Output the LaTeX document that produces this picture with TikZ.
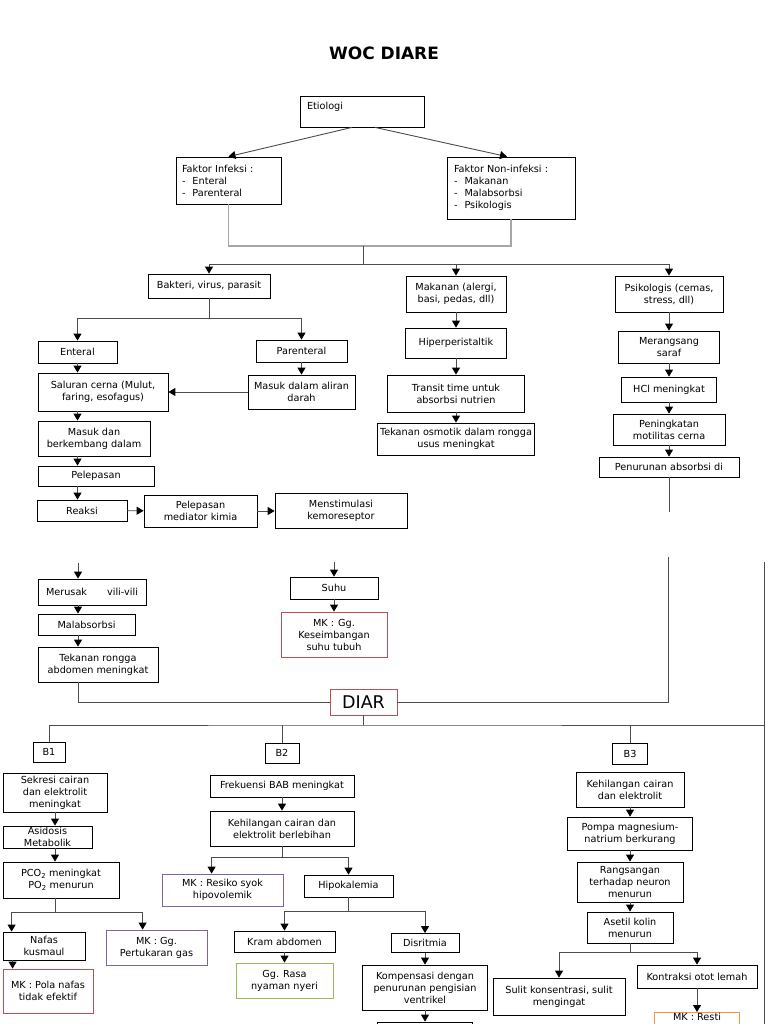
\documentclass[tikz,border=0pt]{standalone}
\usepackage{fontspec}
\setmainfont{DejaVu Sans}
\usetikzlibrary{arrows.meta, positioning, calc}
\newcommand{\fs}{\fontsize{9.7}{12}\selectfont}
\definecolor{mkred}{RGB}{192,80,77}
\definecolor{mkpurple}{RGB}{128,100,162}
\definecolor{mkgreen}{RGB}{155,187,89}
\definecolor{mkorange}{RGB}{247,150,70}

\begin{document}
\begin{tikzpicture}[x=1pt, y=-1pt,
        box/.style={draw, line width=0.8pt, align=center, inner xsep=2pt, inner ysep=1pt, font=\fs},
        sz/.style 2 args={minimum width=#1pt, minimum height=#2pt},
        mk/.style={box, draw=#1},
        line/.style={draw=black!70, line width=0.9pt},
        arr/.style={line, -{Triangle[length=7pt, width=8pt, color=black]}},
        bracket/.style={draw=black!35, line width=1.3pt}]
        \fill[white] (0,0) rectangle (768,1024);
        \useasboundingbox (0,0) rectangle (768,1024);

        \node[font=\fontsize{17}{20}\selectfont\bfseries] (title) at (384,53) {WOC DIARE};

        \node[box, sz={124}{31}, text width=110pt, align=left, inner xsep=7pt] (etio) at (362,111.5) {Etiologi\\ \mbox{}};
        \node[box, sz={105}{47}, text width=93pt, align=left, inner xsep=6pt] (fi) at (228.5,180.5) {Faktor Infeksi :\\-\hspace{7pt}Enteral\\-\hspace{7pt}Parenteral};
        \node[box, sz={128}{62}, text width=114pt, align=left, inner xsep=7pt] (fn) at (511,188) {Faktor Non-infeksi :\\-\hspace{7pt}Makanan\\-\hspace{7pt}Malabsorbsi\\-\hspace{7pt}Psikologis};

        \node[box, sz={122}{24}] (bv) at (209,286) {Bakteri, virus, parasit};
        \node[box, sz={100}{36}] (mk) at (456,294) {Makanan (alergi,\\basi, pedas, dll)};
        \node[box, sz={108}{36}] (ps) at (669,294) {Psikologis (cemas,\\stress, dll)};

        \node[box, sz={79}{22}] (en) at (77.5,352) {Enteral};
        \node[box, sz={91}{22}] (pa) at (301.5,351) {Parenteral};
        \node[box, sz={130}{38}] (sc) at (103,392) {Saluran cerna (Mulut,\\faring, esofagus)};
        \node[box, sz={107}{34}] (md) at (301.5,392) {Masuk dalam aliran\\darah};
        \node[box, sz={112}{35}] (mb) at (94,438.5) {Masuk dan\\berkembang dalam};
        \node[box, sz={116}{20}] (pl) at (96,476) {Pelepasan};
        \node[box, sz={90}{21}] (re) at (82,510.5) {Reaksi};
        \node[box, sz={113}{32}] (pm) at (200.5,511) {Pelepasan\\mediator kimia};
        \node[box, sz={132}{35}] (ms) at (341,511) {Menstimulasi\\kemoreseptor};

        \node[box, sz={101}{30}] (hp) at (456,343) {Hiperperistaltik};
        \node[box, sz={137}{37}] (tt) at (456,393.5) {Transit time untuk\\absorbsi nutrien};
        \node[box, sz={157}{32}, inner xsep=1pt] (to) at (456,439) {Tekanan osmotik dalam rongga\\usus meningkat};

        \node[box, sz={101}{32}] (mrs) at (669,347) {Merangsang\\saraf};
        \node[box, sz={95}{25}] (hcl) at (669,389.5) {HCl meningkat};
        \node[box, sz={112}{31}] (pk) at (669,429.5) {Peningkatan\\motilitas cerna};
        \node[box, sz={140}{20}] (pa2) at (669,467) {Penurunan absorbsi di};

        \node[box, sz={108}{26}] (mr) at (92,592) {Merusak\hspace{20pt}vili-vili};
        \node[box, sz={97}{21}] (mab) at (86.5,624.5) {Malabsorbsi};
        \node[box, sz={120}{35}] (tr) at (98,664.5) {Tekanan rongga\\abdomen meningkat};
        \node[box, sz={88}{22}] (su) at (334,588) {Suhu};
        \node[mk=mkred, sz={106}{45}] (mks) at (334,634.5) {MK :\hspace{4pt}Gg.\\Keseimbangan\\suhu tubuh};
        \node[mk=mkred, sz={67}{26}, font=\fontsize{17.5}{20}\selectfont] (diar) at (363.5,702) {DIAR};

        \node[box, sz={32}{20}] (b1) at (49,752) {B1};
        \node[box, sz={34}{20}] (b2) at (282,753) {B2};
        \node[box, sz={35}{21}] (b3) at (630,753.5) {B3};

        \node[box, sz={104}{39}] (se) at (55,792.5) {Sekresi cairan\\dan elektrolit\\meningkat};
        \node[box, sz={89}{22}, inner ysep=0pt] (as) at (47.5,837) {Asidosis\\Metabolik};
        \node[box, sz={116}{36}] (pco) at (61,880) {PCO\textsubscript{2} meningkat\\PO\textsubscript{2} menurun};
        \node[box, sz={82}{28}] (nf) at (44,946) {Nafas\\kusmaul};
        \node[mk=mkred, sz={90}{44}] (pn) at (48,991) {MK : Pola nafas\\tidak efektif};
        \node[mk=mkpurple, sz={101}{35}] (pg) at (156.5,947.5) {MK : Gg.\\Pertukaran gas};

        \node[box, sz={144}{22}] (fr) at (282,786) {Frekuensi BAB meningkat};
        \node[box, sz={144}{35}] (kc) at (282,828.5) {Kehilangan cairan dan\\elektrolit berlebihan};
        \node[mk=mkpurple, sz={121}{32}] (rs) at (222.5,890) {MK : Resiko syok\\hipovolemik};
        \node[box, sz={89}{22}] (hk) at (348.5,886) {Hipokalemia};
        \node[box, sz={101}{21}] (ka) at (284.5,941.5) {Kram abdomen};
        \node[mk=mkgreen, sz={97}{35}] (gr) at (284.5,980.5) {Gg. Rasa\\nyaman nyeri};
        \node[box, sz={68}{19}] (ds) at (425,943) {Disritmia};
        \node[box, sz={125}{45}] (kp) at (425,987.5) {Kompensasi dengan\\penurunan pengisian\\ventrikel};
        \node[box, sz={95}{24}] (bx) at (425,1034) {};

        \node[box, sz={108}{35}] (kl) at (630,789.5) {Kehilangan cairan\\dan elektrolit};
        \node[box, sz={125}{33}] (pmg) at (630,833.5) {Pompa magnesium-\\natrium berkurang};
        \node[box, sz={106}{40}] (rn) at (630,882) {Rangsangan\\terhadap neuron\\menurun};
        \node[box, sz={86}{31}] (ak) at (630,927.5) {Asetil kolin\\menurun};
        \node[box, sz={132}{37}] (sl) at (559,996.5) {Sulit konsentrasi, sulit\\mengingat};
        \node[box, sz={120}{23}] (kt) at (697,976.5) {Kontraksi otot lemah};
        \node[mk=mkorange, minimum width=85pt, anchor=north, inner ysep=0.5pt, text height=8pt, text depth=16pt] (rst) at (697,1012) {MK : Resti};

        \coordinate (jn) at (363,246);
        \coordinate (jn2) at (363,264);
        \coordinate (bj) at (209,318);
        \coordinate (mrin) at (78,563);
        \coordinate (suin) at (334,562);
        \coordinate (gapa) at (669,512);
        \coordinate (gapb) at (668,557);
        \coordinate (bus) at (363.5,725);
        \coordinate (rt) at (764,562);
        \coordinate (rb) at (764,1030);
        \coordinate (pj) at (55,912);
        \coordinate (kj) at (282,857);
        \coordinate (hj) at (348.5,911);
        \coordinate (aj) at (630,952);

        \draw[arr] ([xshift=-10pt]etio.south) -- (fi.north);
        \draw[arr] ([xshift=13pt]etio.south) -- ([xshift=-4pt]fn.north);
        \draw[bracket] (fi.south) |- (jn) -| (fn.south);
        \draw[line] (jn) -- (jn2);
        \draw[arr] (jn2) -| (bv.north);
        \draw[arr] (jn2) -| (mk.north);
        \draw[arr] (jn2) -| (ps.north);

        \draw[line] (bv) -- (bj);
        \draw[arr] (bj) -| (en.north);
        \draw[arr] (bj) -| (pa.north);
        \draw[arr] (en) -- (en |- sc.north);
        \draw[arr] (pa) -- (md);
        \draw[arr] (md) -- (sc);
        \draw[arr] (en |- sc.south) -- (en |- mb.north);
        \draw[arr] (en |- mb.south) -- (en |- pl.north);
        \draw[arr] (en |- pl.south) -- (en |- re.north);
        \draw[arr] (re) -- (pm);
        \draw[arr] (pm) -- (ms);

        \draw[arr] (mk) -- (hp);
        \draw[arr] (hp) -- (tt);
        \draw[arr] (tt) -- (to);
        \draw[arr] (ps) -- (mrs);
        \draw[arr] (mrs) -- (hcl);
        \draw[arr] (hcl) -- (pk);
        \draw[arr] (pk) -- (pa2);
        \draw[line] (pa2) -- (gapa);

        \draw[arr] (mrin) -- (mrin |- mr.north);
        \draw[arr] (mrin |- mr.south) -- (mrin |- mab.north);
        \draw[arr] (mrin |- mab.south) -- (mrin |- tr.north);
        \draw[line] (mrin |- tr.south) |- (diar.west);
        \draw[arr] (suin) -- (su);
        \draw[arr] (su) -- (mks);
        \draw[line] (diar.east) -| (gapb);

        \draw[line] (diar) -- (bus);
        \draw[line] (b1.north) |- (bus) -| (rt);
        \draw[line] (rt) -- (rb);
        \draw[line] (b2) -- (b2 |- bus);
        \draw[line] (b3) -- (b3 |- bus);

        \draw[arr] (se) -- (se |- as.north);
        \draw[arr] (se |- as.south) -- (se |- pco.north);
        \draw[line] (se |- pco.south) -- (pj);
        \draw[arr] (pj) -| ([xshift=9pt]nf.north west);
        \draw[arr] (pj) -| ([xshift=37pt]pg.north west);
        \draw[arr] ([xshift=10pt]nf.south west) -- ([xshift=10pt]pn.north west);

        \draw[arr] (fr) -- (kc);
        \draw[line] (kc) -- (kj);
        \draw[arr] (kj) -| ([xshift=50pt]rs.north west);
        \draw[arr] (kj) -| (hk.north);
        \draw[line] (hk) -- (hj);
        \draw[arr] (hj) -| (ka.north);
        \draw[arr] (hj) -| (ds.north);
        \draw[arr] (ka) -- (gr);
        \draw[arr] (ds) -- (kp);
        \draw[arr] (kp) -- (bx);

        \draw[arr] (kl) -- (pmg);
        \draw[arr] (pmg) -- (rn);
        \draw[arr] (rn) -- (ak);
        \draw[line] (ak) -- (aj);
        \draw[arr] (aj) -| (sl.north);
        \draw[arr] (aj) -| (kt.north);
        \draw[arr] (kt) -- (rst);
\end{tikzpicture}
\end{document}
